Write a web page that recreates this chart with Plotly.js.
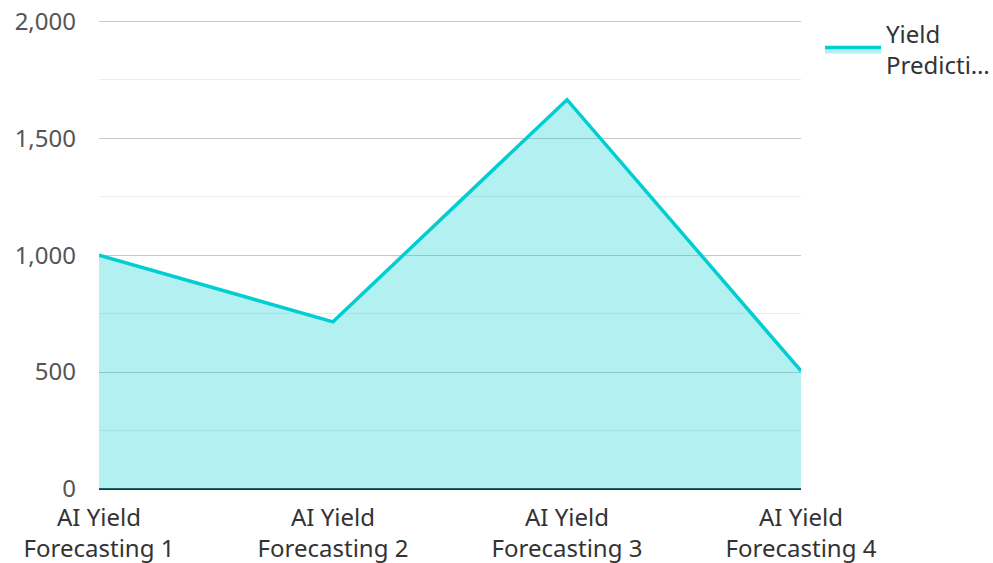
<!DOCTYPE html>
<html><head><meta charset="utf-8">
<script src="https://cdn.plot.ly/plotly-3.0.1.min.js"></script>
<style>html,body{margin:0;padding:0;background:#fff}#chart{width:993px;height:563px}</style>
</head><body><div id="chart"></div>
<script>
const categories = ["AI Yield<br>Forecasting 1","AI Yield<br>Forecasting 2","AI Yield<br>Forecasting 3","AI Yield<br>Forecasting 4"];
const yieldValues = [1000, 715, 1665, 505];
const seriesName = "Yield<br>Predicti…";
const yTickVals = [0, 500, 1000, 1500, 2000];
const yTickText = ["0", "500", "1,000", "1,500", "2,000"];

const trace = {
  type: "scatter", mode: "lines", x: categories, y: yieldValues, name: seriesName,
  fill: "tozeroy", fillcolor: "rgba(0,206,209,0.3)",
  line: {color: "#00CED1", width: 3.5}
};
const layout = {
  width: 993, height: 563,
  margin: {l: 99, r: 192, t: 19, b: 74},
  paper_bgcolor: "#fff", plot_bgcolor: "#fff",
  font: {family: "Noto Sans, Open Sans, sans-serif", size: 24, color: "#444"},
  showlegend: true,
  legend: {xref: "container", yref: "container", x: 0.8258, xanchor: "left", y: 0.979, yanchor: "top", itemwidth: 56, font: {size: 24, color: "#333"}, bgcolor: "rgba(0,0,0,0)"},
  xaxis: {type: "category", range: [0, 3], showgrid: false, zeroline: false, showline: false, ticks: "", ticklabelstandoff: 12, tickfont: {size: 24, color: "#333"}, automargin: false},
  yaxis: {range: [0, 2010], tickvals: yTickVals, ticktext: yTickText, showgrid: true, gridcolor: "#c8c8c8", gridwidth: 1,
    minor: {dtick: 250, showgrid: true, gridcolor: "#ebebeb", gridwidth: 1},
    zeroline: true, zerolinecolor: "#333", zerolinewidth: 2, showline: false, ticks: "", ticklen: 0, ticklabelstandoff: 22, tickfont: {size: 24, color: "#555"}, automargin: false}
};
Plotly.newPlot("chart", [trace], layout, {displayModeBar: false, staticPlot: true});
</script></body></html>
